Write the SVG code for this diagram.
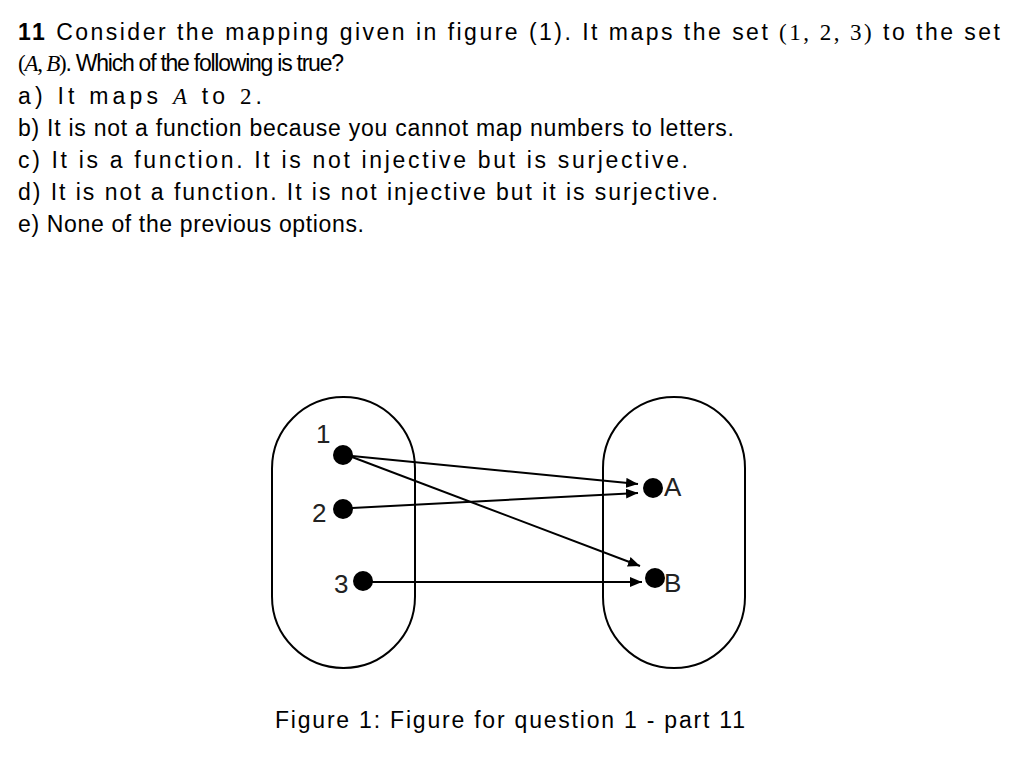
<svg xmlns="http://www.w3.org/2000/svg" width="1024" height="761" viewBox="0 0 1024 761">
<style>
.t{font-family:"Liberation Sans",Arial,sans-serif;font-size:23px;fill:#000}
.m{font-family:"Liberation Serif",serif;font-style:italic}
.r{font-family:"Liberation Serif",serif}
.lbl{font-family:"Liberation Sans",Arial,sans-serif;font-size:26px;fill:#222}
.set{fill:none;stroke:#000;stroke-width:2}
.e{stroke:#000;stroke-width:2;fill:none;marker-end:url(#ah)}
</style>
<defs><marker id="ah" viewBox="0 0 12 10" refX="12" refY="5" markerWidth="12" markerHeight="10" markerUnits="userSpaceOnUse" orient="auto"><path d="M0,0 L12,5 L0,10 z" fill="#000"/></marker></defs>
<rect width="1024" height="761" fill="#fff"/>
<text class="t" x="18" y="40" textLength="982" lengthAdjust="spacing"><tspan font-weight="bold">11</tspan> Consider the mapping given in figure (1).  It maps the set <tspan class="r">(1, 2, 3)</tspan> to the set</text>
<text class="t" x="18" y="71" textLength="326" lengthAdjust="spacing"><tspan class="r">(</tspan><tspan class="m">A</tspan><tspan class="r">, </tspan><tspan class="m">B</tspan><tspan class="r">)</tspan>. Which of the following is true?</text>
<text class="t" x="18" y="104" textLength="244" lengthAdjust="spacing">a) It maps <tspan class="m">A</tspan> to <tspan class="r">2</tspan>.</text>
<text class="t" x="18" y="136" textLength="716" lengthAdjust="spacing">b) It is not a function because you cannot map numbers to letters.</text>
<text class="t" x="18" y="168" textLength="670" lengthAdjust="spacing">c) It is a function. It is not injective but is surjective.</text>
<text class="t" x="18" y="200" textLength="700" lengthAdjust="spacing">d) It is not a function.  It is not injective but it is surjective.</text>
<text class="t" x="18" y="232" textLength="346" lengthAdjust="spacing">e) None of the previous options.</text>
<g id="setX"><rect class="set" x="272" y="397" width="143" height="271" rx="71.5"/></g>
<g id="setY"><rect class="set" x="603" y="397" width="142" height="271" rx="71"/></g>
<g id="n1"><circle cx="343" cy="455" r="10"/><text class="lbl" x="316" y="443">1</text></g>
<g id="n2"><circle cx="343" cy="509" r="10"/><text class="lbl" x="312" y="522">2</text></g>
<g id="n3"><circle cx="363" cy="581" r="10"/><text class="lbl" x="334" y="593">3</text></g>
<g id="nA"><circle cx="653" cy="488" r="10"/><text class="lbl" x="664" y="496">A</text></g>
<g id="nB"><circle cx="655" cy="578" r="10"/><text class="lbl" x="664" y="592">B</text></g>
<g id="edges">
<line class="e" x1="352" y1="456" x2="638" y2="484"/>
<line class="e" x1="352" y1="457" x2="640" y2="566"/>
<line class="e" x1="352" y1="508" x2="638" y2="493"/>
<line class="e" x1="372" y1="582" x2="642" y2="582"/>
</g>
<text class="t" x="275" y="728" textLength="470" lengthAdjust="spacing">Figure 1:  Figure for question 1 - part 11</text>
</svg>
